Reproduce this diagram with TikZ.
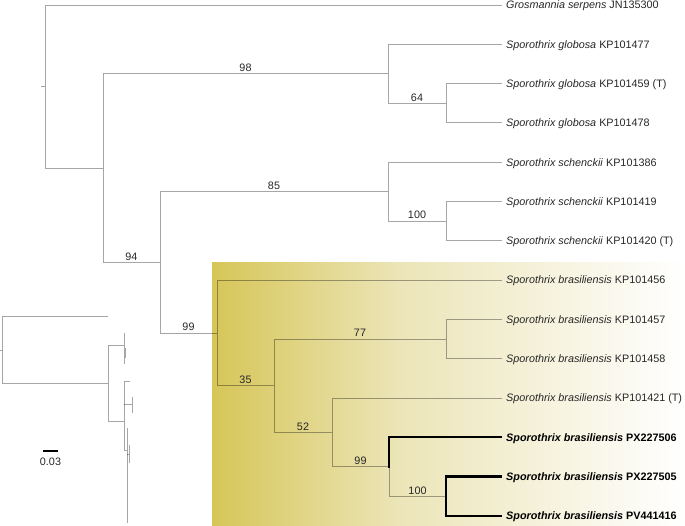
\documentclass[tikz,border=0pt]{standalone}
\usepackage{fontspec}
\setmainfont{Liberation Sans}
\definecolor{cladeA}{RGB}{214,198,88}
\definecolor{cladeB}{RGB}{236,229,184}
\begin{document}
\begin{tikzpicture}[x=1pt,y=-1pt,
 br/.style={draw=black,draw opacity=0.35,line width=0.9pt},
 thickbr/.style={draw=black,line width=2.3pt},
 inset/.style={draw=black,draw opacity=0.35,line width=0.8pt},
 bs/.style={midway,above,inner sep=1.6pt,font=\fontsize{10.8}{12}\selectfont,text=black!85},
 leaf/.style={anchor=base west,inner sep=0pt,font=\fontsize{10.8}{12}\selectfont,text=black!85}]
\useasboundingbox (0,0) rectangle (685,526);
% clade shading
\shade[left color=cladeA, right color=cladeB] (212,263) rectangle (400.5,526);
\shade[left color=cladeB, right color=white] (400,263) rectangle (685,526);
% leaf labels
\node[leaf] (l0) at (506,8.9) {\textit{Grosmannia serpens} JN135300};
\node[leaf] (l1) at (506,48.2) {\textit{Sporothrix globosa} KP101477};
\node[leaf] (l2) at (506,87.5) {\textit{Sporothrix globosa} KP101459 (T)};
\node[leaf] (l3) at (506,126.8) {\textit{Sporothrix globosa} KP101478};
\node[leaf] (l4) at (506,166.1) {\textit{Sporothrix schenckii} KP101386};
\node[leaf] (l5) at (506,205.4) {\textit{Sporothrix schenckii} KP101419};
\node[leaf] (l6) at (506,244.7) {\textit{Sporothrix schenckii} KP101420 (T)};
\node[leaf] (l7) at (506,284.0) {\textit{Sporothrix brasiliensis} KP101456};
\node[leaf] (l8) at (506,323.3) {\textit{Sporothrix brasiliensis} KP101457};
\node[leaf] (l9) at (506,362.6) {\textit{Sporothrix brasiliensis} KP101458};
\node[leaf] (l10) at (506,401.9) {\textit{Sporothrix brasiliensis} KP101421 (T)};
\node[leaf,text=black] (l11) at (506,441.2) {\textbf{\textit{Sporothrix brasiliensis} PX227506}};
\node[leaf,text=black] (l12) at (506,480.5) {\textbf{\textit{Sporothrix brasiliensis} PX227505}};
\node[leaf,text=black] (l13) at (506,519.8) {\textbf{\textit{Sporothrix brasiliensis} PV441416}};
% main tree
\draw[br] (41,86.5) -- (45,86.5);
\draw[br] (502,5) -- (45,5) -- (45,168) -- (103,168);
\draw[br] (388,73.8) -- (103,73.8) node[bs]{98} -- (103,262.3) -- (160,262.3) node[bs]{94};
\draw[br] (502,44.3) -- (388,44.3) -- (388,103.25) -- (446,103.25) node[bs]{64};
\draw[br] (502,83.6) -- (446,83.6) -- (446,122.9) -- (502,122.9);
\draw[br] (388,191.7) -- (160,191.7) node[bs]{85} -- (160,333) -- (217,333) node[bs]{99};
\draw[br] (502,162.2) -- (388,162.2) -- (388,221.15) -- (446,221.15) node[bs]{100};
\draw[br] (502,201.5) -- (446,201.5) -- (446,240.8) -- (502,240.8);
\draw[br] (502,280.1) -- (217,280.1) -- (217,385.8) -- (274,385.8) node[bs]{35};
\draw[br] (446,339.05) -- (274,339.05) node[bs]{77} -- (274,432.5) -- (332,432.5) node[bs]{52};
\draw[br] (502,319.4) -- (446,319.4) -- (446,358.7) -- (502,358.7);
\draw[br] (502,398) -- (332,398) -- (332,466.8) -- (389,466.8) node[bs]{99};
\draw[br] (389,466.8) -- (389,496.25) -- (446,496.25) node[bs]{100};
\draw[thickbr] (502,437.3) -- (389,437.3) -- (389,467.5);
\draw[thickbr] (502,476.6) -- (446,476.6) -- (446,515.9) -- (502,515.9);
% inset overview tree
\draw[inset] (0,350) -- (2,350);
\draw[inset] (108,316) -- (2,316) -- (2,383) -- (108,383);
\draw[inset] (124,345) -- (108,345) -- (108,421) -- (124,421);
\draw[inset] (124,333) -- (124,364);
\draw[inset] (125,348) -- (125,358);
\draw[inset] (130,381) -- (124,381) -- (124,450) -- (127,450);
\draw[inset] (124,404) -- (132,404);
\draw[inset] (132,397) -- (132,413);
\draw[inset] (127,428) -- (127,523);
\draw[inset] (127,454) -- (129,454);
\draw[inset] (129,445) -- (129,463);
% scale bar
\draw[black,line width=2.2pt] (43,451) -- (58,451);
\node[font=\fontsize{10.8}{12}\selectfont,text=black!85,inner sep=0pt] (scale) at (50.5,462) {0.03};
\end{tikzpicture}
\end{document}
